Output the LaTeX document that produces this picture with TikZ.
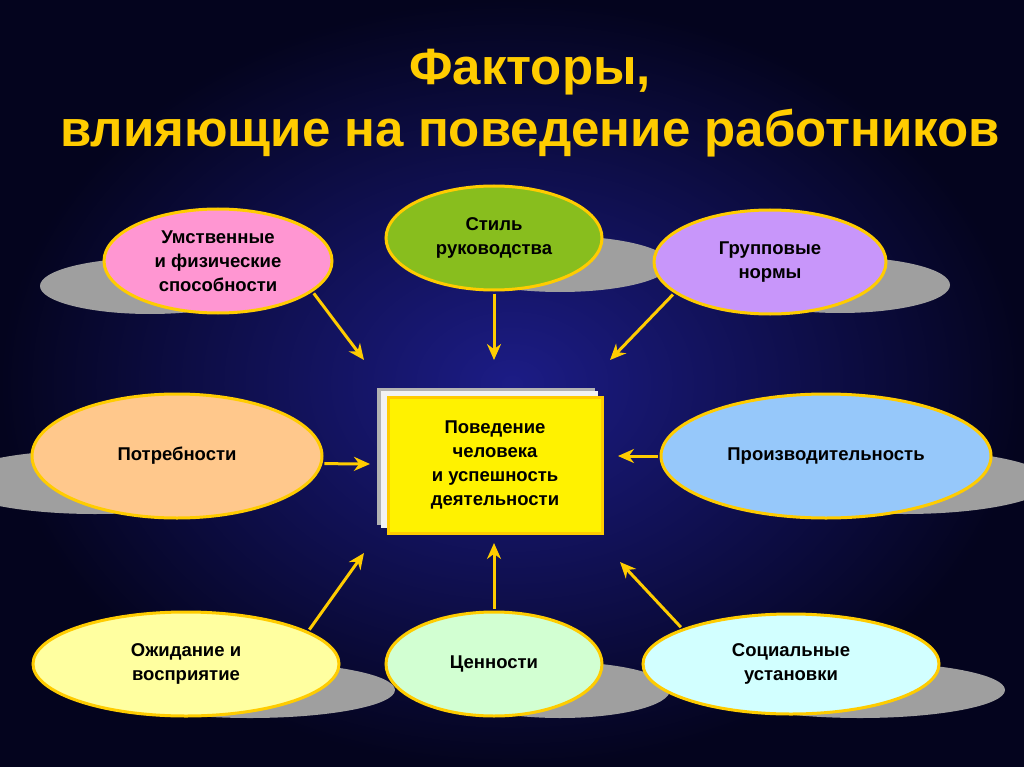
\documentclass[tikz,border=0pt]{standalone}
\usepackage{fontspec}
\setmainfont{Liberation Sans}
\usetikzlibrary{shapes.geometric,arrows.meta}
\definecolor{gold}{HTML}{FFCC00}
\definecolor{bgin}{HTML}{1C1C86}
\definecolor{bgout}{HTML}{04041E}
\begin{document}
\begin{tikzpicture}[x=1pt,y=-1pt,
  factor/.style = {ellipse,draw=gold,line width=3pt,inner sep=0pt,align=center,
        font=\bfseries\fontsize{18.5}{24}\selectfont},
  shade/.style = {ellipse,fill=gray!75,draw=none,inner sep=0pt},
  arrow/.style = {gold,line width=3pt,-{Stealth[length=16pt,width=14pt]},shorten <=2pt}]
 \shade[inner color=bgin,outer color=bgout] (0,0) rectangle (1024,767);
 \useasboundingbox (0,0) rectangle (1024,767);
 \node[font=\bfseries\fontsize{51}{62}\selectfont,text=gold,align=center] (title) at (530,103)
   {Факторы,\\влияющие на поведение работников};
 % shadows
 \node[shade,minimum width=220pt,minimum height=56pt] at (150,286) {};
 \node[shade,minimum width=220pt,minimum height=56pt] at (560,264) {};
 \node[shade,minimum width=220pt,minimum height=56pt] at (840,285) {};
 \node[shade,minimum width=290pt,minimum height=64pt] at (95,482) {};
 \node[shade,minimum width=290pt,minimum height=64pt] at (905,482) {};
 \node[shade,minimum width=290pt,minimum height=56pt] at (250,690) {};
 \node[shade,minimum width=220pt,minimum height=56pt] at (560,690) {};
 \node[shade,minimum width=290pt,minimum height=56pt] at (860,690) {};
 % factors
 \node[factor,fill={rgb,255:red,255;green,150;blue,210},minimum width=228pt,minimum height=104pt] (abil) at (218,261)
   {Умственные\\и физические\\способности};
 \node[factor,fill={rgb,255:red,136;green,190;blue,30},minimum width=216pt,minimum height=104pt] (style) at (494,238)
   {Стиль\\руководства};
 \node[factor,fill={rgb,255:red,200;green,150;blue,250},minimum width=232pt,minimum height=104pt] (norm) at (770,262)
   {Групповые\\нормы};
 \node[factor,fill={rgb,255:red,255;green,200;blue,140},minimum width=290pt,minimum height=124pt] (need) at (177,456)
   {Потребности};
 \node[factor,fill={rgb,255:red,150;green,200;blue,250},minimum width=330pt,minimum height=124pt] (prod) at (826,456)
   {Производительность};
 \node[factor,fill={rgb,255:red,255;green,255;blue,160},minimum width=306pt,minimum height=104pt] (expect) at (186,664)
   {Ожидание и\\восприятие};
 \node[factor,fill={rgb,255:red,210;green,255;blue,210},minimum width=216pt,minimum height=104pt] (value) at (494,664)
   {Ценности};
 \node[factor,fill={rgb,255:red,210;green,255;blue,255},minimum width=296pt,minimum height=100pt] (attit) at (791,664)
   {Социальные\\установки};
 % centre
 \fill[gray!60] (377,388) rectangle (595,525);
 \fill[white!90!gray] (381,391) rectangle (598,528);
 \node[draw=gold,line width=3pt,fill=yellow,minimum width=214pt,minimum height=136pt,align=center,
   font=\bfseries\fontsize{18.5}{24}\selectfont] (beh) at (495,465)
   {Поведение\\человека\\и успешность\\деятельности};
 \coordinate (t1) at (364,360);
 \coordinate (t2) at (494,360);
 \coordinate (t3) at (610,360);
 \coordinate (t4) at (370,464);
 \coordinate (t5) at (618,456);
 \coordinate (t6) at (364,553);
 \coordinate (t7) at (494,543);
 \coordinate (t8) at (620,562);
 \draw[arrow] (abil.-18) -- (t1);
 \draw[arrow] (style) -- (t2);
 \draw[arrow] (norm.-162) -- (t3);
 \draw[arrow] (need.-3) -- (t4);
 \draw[arrow] (prod) -- (t5);
 \draw[arrow] (expect.15) -- (t6);
 \draw[arrow] (value) -- (t7);
 \draw[arrow] (attit.162) -- (t8);
\end{tikzpicture}
\end{document}
